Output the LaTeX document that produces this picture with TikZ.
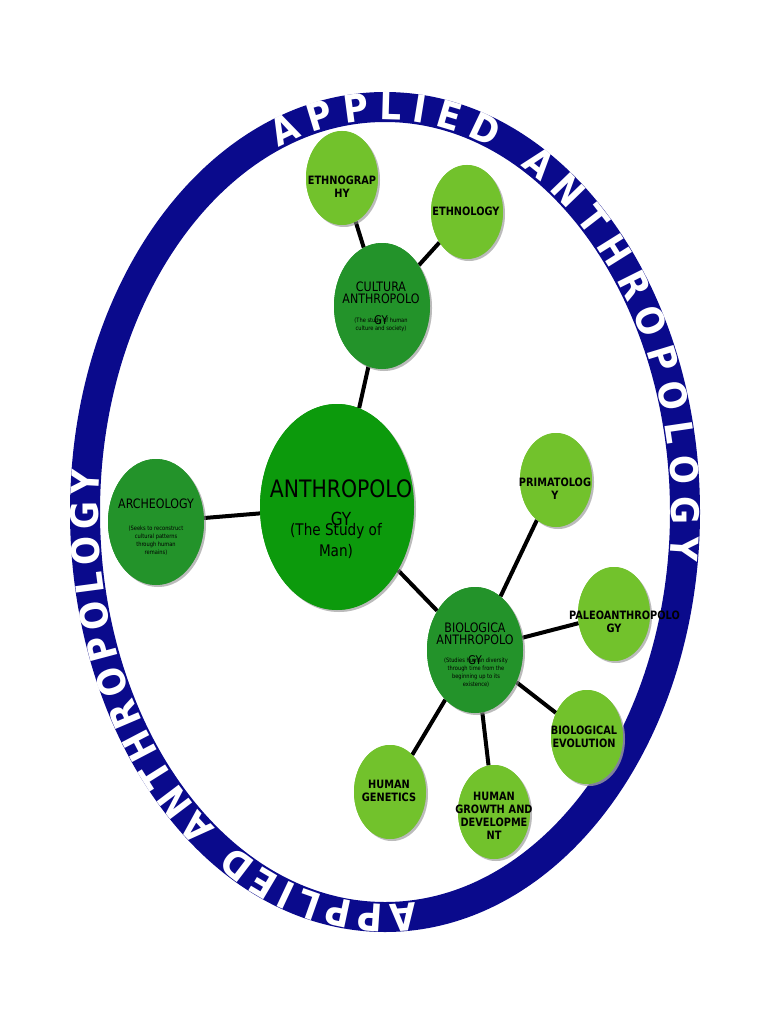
\documentclass[tikz,border=0pt]{standalone}
\usepackage{fontspec}
\setmainfont{DejaVu Sans}[FakeStretch=0.85]
\newfontfamily\ringfont{DejaVu Sans}[FakeStretch=0.9]
\usetikzlibrary{shapes.geometric,decorations.text,shadows}
\definecolor{ringblue}{HTML}{0A0A8C}
\definecolor{maingreen}{HTML}{0C9A0C}
\definecolor{midgreen}{HTML}{23932A}
\definecolor{lightgreen}{HTML}{72C22C}
\tikzset{
  bub/.style={ellipse,inner sep=0pt,draw=none,drop shadow={shadow xshift=2pt,shadow yshift=-2pt,fill=black!35,opacity=.5}},
  leaf/.style={bub,fill=lightgreen,minimum width=72pt,minimum height=94pt},
  mid/.style={bub,fill=midgreen,minimum width=96pt,minimum height=126pt},
  link/.style={line width=4pt,black},
  lt/.style={font=\bfseries\fontsize{11.5}{13}\selectfont,align=center,text width=90pt},
  st/.style={font=\fontsize{6}{8}\selectfont,align=center}
}
\begin{document}
\begin{tikzpicture}[x=1pt,y=-1pt]
\fill[white] (0,0) rectangle (768,1024);
\useasboundingbox (0,0) rectangle (768,1024);
\draw[ringblue,line width=30pt] (385,512) ellipse [x radius=300,y radius=405];
\path[decorate,decoration={text along path,text align={fit to path},raise=-13pt,
  text={|\ringfont\bfseries\fontsize{38}{38}\selectfont\color{white}|APPLIED ANTHROPOLOGY}}]
  (385,512) ++(112:300 and -405) arc[start angle=112,end angle=-7,x radius=300,y radius=-405];
\path[decorate,decoration={text along path,text align={fit to path},raise=-13pt,
  text={|\ringfont\bfseries\fontsize{38}{38}\selectfont\color{white}|APPLIED ANTHROPOLOGY}}]
  (385,512) ++(-84:300 and -405) arc[start angle=-84,end angle=-186,x radius=300,y radius=-405];
\node[bub,fill=maingreen,minimum width=154pt,minimum height=206pt] (anth) at (337,507) {};
\node[mid] (cult) at (382,306) {};
\node[leaf] (ethg) at (342,178) {};
\node[leaf] (ethl) at (467,212) {};
\node[mid] (arch) at (156,522) {};
\node[mid] (bio) at (475,650) {};
\node[leaf] (prim) at (556,480) {};
\node[leaf] (paleo) at (614,614) {};
\node[leaf] (bevo) at (587,737) {};
\node[leaf] (hgen) at (390,792) {};
\node[leaf] (hgro) at (494,812) {};
\draw[link] (anth) -- (cult);
\draw[link] (anth) -- (arch);
\draw[link] (anth) -- (bio);
\draw[link] (cult) -- (ethg);
\draw[link] (cult) -- (ethl);
\draw[link] (bio) -- (prim);
\draw[link] (bio) -- (paleo);
\draw[link] (bio) -- (bevo);
\draw[link] (bio) -- (hgen);
\draw[link] (bio) -- (hgro);
\node[bub,fill=maingreen,minimum width=154pt,minimum height=206pt] at (anth) {};
\foreach \n in {cult,arch,bio} \node[mid] at (\n) {};
\foreach \n in {ethg,ethl,prim,paleo,bevo,hgen,hgro} \node[leaf] at (\n) {};
\node[font=\fontsize{24}{26}\selectfont] (t1) at (341,489) {ANTHROPOLO};
\node[font=\fontsize{18}{18}\selectfont] (t1b) at (341,519) {GY};
\node[font=\fontsize{16}{21}\selectfont,align=center] (t1c) at (336,541) {(The Study of\\Man)};
\node[font=\fontsize{13}{12}\selectfont,align=center] (t2) at (381,293) {CULTURA\\ANTHROPOLO};
\node[font=\fontsize{12}{12}\selectfont] (t2b) at (381,320) {GY};
\node[st] (t2c) at (381,325) {(The study of human\\culture and society)};
\node[font=\fontsize{13}{12}\selectfont,align=center] (t3) at (475,634) {BIOLOGICA\\ANTHROPOLO};
\node[font=\fontsize{12}{12}\selectfont] (t3b) at (475,660) {GY};
\node[st] (t3c) at (476,673) {(Studies human diversity\\through time from the\\beginning up to its\\existence)};
\node[font=\fontsize{13}{12}\selectfont] (t4) at (156,504) {ARCHEOLOGY};
\node[st] (t4b) at (156,541) {(Seeks to reconstruct\\cultural patterns\\through human\\remains)};
\node[lt] at (342,187) {ETHNOGRAP\\HY};
\node[lt] at (466,211) {ETHNOLOGY};
\node[lt] at (555,489) {PRIMATOLOG\\Y};
\node[lt] at (614,622) {PALEOANTHROPOLO\\GY};
\node[lt] at (584,737) {BIOLOGICAL\\EVOLUTION};
\node[lt] at (389,791) {HUMAN\\GENETICS};
\node[lt] at (494,816) {HUMAN\\GROWTH AND\\DEVELOPME\\NT};
\end{tikzpicture}
\end{document}
